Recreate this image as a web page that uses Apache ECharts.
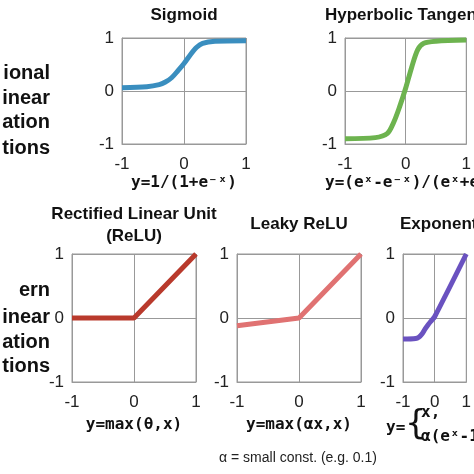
<!DOCTYPE html>
<html><head><meta charset="utf-8">
<script src="https://cdn.jsdelivr.net/npm/echarts@6/dist/echarts.min.js"></script>
<style>html,body{margin:0;background:#fff}#c{width:474px;height:474px}</style>
</head><body><div id="c"></div>
<script>
// values, [x, y]
const sigmoidPts = [[-1,0.06],[-0.6,0.08],[-0.4,0.12],[-0.3,0.17],[-0.2,0.25],[-0.1,0.38],[0,0.52],[0.1,0.68],[0.2,0.82],[0.3,0.9],[0.5,0.94],[1,0.95]];
const tanhPts = [[-1,-0.9],[-0.5,-0.88],[-0.3,-0.8],[-0.2,-0.6],[-0.1,-0.3],[0,0.05],[0.1,0.45],[0.2,0.78],[0.3,0.9],[0.5,0.94],[1,0.96]];
const reluPts = [[-1,0],[0,0],[1,1]];
const leakyPts = [[-1,-0.12],[0,0],[1,1]];
const eluPts = [[-1,-0.33],[-0.6,-0.32],[-0.5,-0.3],[-0.4,-0.25],[-0.3,-0.17],[-0.2,-0.1],[-0.1,-0.04],[0,0.02],[1,1]];
const tickLabels = ['-1','0','1'];

const panels = [
  {data: sigmoidPts, color: '#3a8ebf', smooth: true, left: 122, top: 38, w: 124, h: 106},
  {data: tanhPts, color: '#6db34f', smooth: true, left: 345, top: 38, w: 124, h: 106},
  {data: reluPts, color: '#b93a2c', smooth: false, left: 72, top: 254, w: 124, h: 128},
  {data: leakyPts, color: '#e07272', smooth: false, left: 237, top: 254, w: 124, h: 128},
  {data: eluPts, color: '#6a52c0', smooth: true, left: 403, top: 254, w: 124, h: 128}
];

const axisCommon = {
  type: 'value', min: -1, max: 1, interval: 1,
  axisLine: {show: true, onZero: false, lineStyle: {color: '#999'}},
  axisTick: {show: false},
  splitLine: {lineStyle: {color: '#999'}},
  axisLabel: {color: '#222', fontSize: 17, fontFamily: 'Liberation Sans',
    formatter: v => tickLabels[v + 1]}
};

const bold = (text, x, y, size, align) => ({type: 'text', x, y,
  style: {text, fill: '#111', font: 'bold ' + size + 'px "Liberation Sans"', textAlign: align || 'center', textVerticalAlign: 'middle'}});
const mono = (text, x, y, align) => ({type: 'text', x, y,
  style: {text, fill: '#111', font: 'bold 16px "DejaVu Sans Mono"', textAlign: align || 'center', textVerticalAlign: 'middle'}});

const chart = echarts.init(document.getElementById('c'));
chart.setOption({
  animation: false,
  grid: panels.map(p => ({left: p.left, top: p.top, width: p.w, height: p.h, show: true, borderColor: '#999', borderWidth: 1})),
  xAxis: panels.map((p, i) => ({...axisCommon, gridIndex: i, position: 'bottom', axisLabel: {...axisCommon.axisLabel, margin: 12}})),
  yAxis: panels.map((p, i) => ({...axisCommon, gridIndex: i, position: 'left', axisLabel: {...axisCommon.axisLabel, margin: 8}})),
  series: panels.map((p, i) => ({type: 'line', xAxisIndex: i, yAxisIndex: i, data: p.data, smooth: p.smooth ? 0.3 : false,
    showSymbol: false, lineStyle: {color: p.color, width: 5}})),
  graphic: [
    bold('ional', 50, 73, 20, 'right'), bold('inear', 50, 98, 20, 'right'),
    bold('ation', 50, 122, 20, 'right'), bold('tions', 50, 148, 20, 'right'),
    bold('ern', 50, 290, 20, 'right'), bold('inear', 50, 317, 20, 'right'),
    bold('ation', 50, 342, 20, 'right'), bold('tions', 50, 366, 20, 'right'),
    bold('Sigmoid', 184, 15, 17), bold('Hyperbolic Tangent', 325, 15, 17, 'left'),
    bold('Rectified Linear Unit', 134, 214, 17), bold('(ReLU)', 134, 236, 17),
    bold('Leaky ReLU', 299, 224, 17), bold('Exponential LU', 400, 224, 17, 'left'),
    mono('y=1/(1+e⁻ˣ)', 184, 183), mono('y=(eˣ-e⁻ˣ)/(eˣ+e⁻ˣ)', 325, 183, 'left'),
    mono('y=max(θ,x)', 134, 425), mono('y=max(αx,x)', 299, 425),
    mono('y=', 386, 428, 'left'),
    {type: 'text', x: 405, y: 425, style: {text: '{', fill: '#111', font: '34px "DejaVu Sans"', textAlign: 'left', textVerticalAlign: 'middle'}},
    mono('x,', 421, 413, 'left'), mono('α(eˣ-1)', 421, 437, 'left'),
    {type: 'text', x: 298, y: 458, style: {text: 'α = small const. (e.g. 0.1)', fill: '#222', font: '14px "Liberation Sans"', textAlign: 'center', textVerticalAlign: 'middle'}}
  ]
});
</script></body></html>
